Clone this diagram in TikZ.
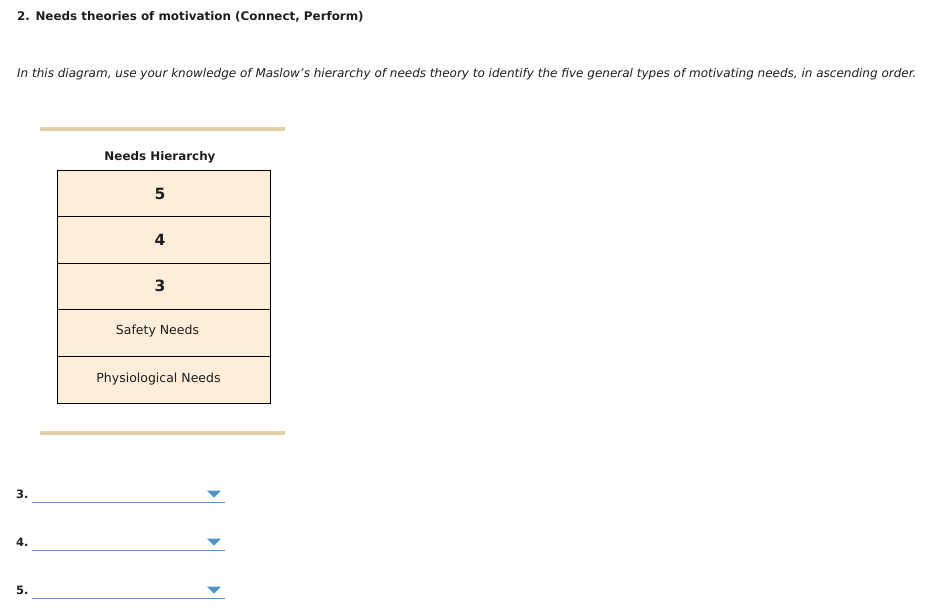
\documentclass[tikz,border=0pt]{standalone}
\usepackage{fontspec}
\setmainfont{DejaVu Sans}
\definecolor{rowfill}{HTML}{FDEDD9}
\definecolor{barcol}{HTML}{DDD1A5}
\definecolor{bluecol}{HTML}{5591C6}
\definecolor{txt}{HTML}{1E1E1E}
\begin{document}
\begin{tikzpicture}[x=1pt,y=-1pt,
  rowbox/.style={draw=black,line width=1pt,fill=rowfill,minimum width=213pt,minimum height=46.6pt,inner sep=0pt,anchor=north west},
  numtxt/.style={font=\fontsize{15.5}{17}\selectfont\bfseries,text=txt},
  lbltxt/.style={font=\fontsize{12.5}{14}\selectfont,text=txt},
  bar/.style={barcol,line width=4pt},
  ansline/.style={bluecol,line width=1.8pt},
  anstri/.style={fill=bluecol,draw=none},
  anslabel/.style={font=\fontsize{11.5}{13}\selectfont\bfseries,text=txt,anchor=west,inner sep=0pt}]
\useasboundingbox (0,0) rectangle (947,615);
\node[anchor=west,inner sep=0pt,text=txt,font=\fontsize{11.9}{14}\selectfont\bfseries] (title) at (17,17) {2. Needs theories of motivation (Connect, Perform)};
\node[anchor=west,inner sep=0pt,text=txt,font=\fontsize{12}{14}\selectfont\itshape] (instr) at (17,74) {In this diagram, use your knowledge of Maslow’s hierarchy of needs theory to identify the five general types of motivating needs, in ascending order.};
\coordinate (bt1) at (40,129.5);
\coordinate (bt2) at (285,129.5);
\draw[bar] (bt1) -- (bt2);
\node[inner sep=0pt,text=txt,font=\fontsize{11.9}{14}\selectfont\bfseries] (head) at (160,157) {Needs Hierarchy};
\node[rowbox] (r5) at (57,169.5) {};
\node[rowbox] (r4) at (57,216.1) {};
\node[rowbox] (r3) at (57,262.7) {};
\node[rowbox] (r2) at (57,309.3) {};
\node[rowbox] (r1) at (57,355.9) {};
\node[numtxt] (t5) at (160,194) {5};
\node[numtxt] (t4) at (160,240) {4};
\node[numtxt] (t3) at (160,286) {3};
\node[lbltxt] (t2) at (157.5,331) {Safety Needs};
\node[lbltxt] (t1) at (158.5,379) {Physiological Needs};
\coordinate (bb1) at (40,432.5);
\coordinate (bb2) at (285,432.5);
\draw[bar] (bb1) -- (bb2);
\foreach \n/\y in {3/0,4/48,5/96}{
  \node[anslabel] (a\n) at (16,{494+\y}) {\n.};
  \coordinate (l\n a) at (32,{502.5+\y});
  \coordinate (l\n b) at (225,{502.5+\y});
  \draw[ansline] (l\n a) -- (l\n b);
  \fill[anstri] (207,{490.5+\y}) -- (221,{490.5+\y}) -- (214,{497.5+\y}) -- cycle;
}
\end{tikzpicture}
\end{document}
